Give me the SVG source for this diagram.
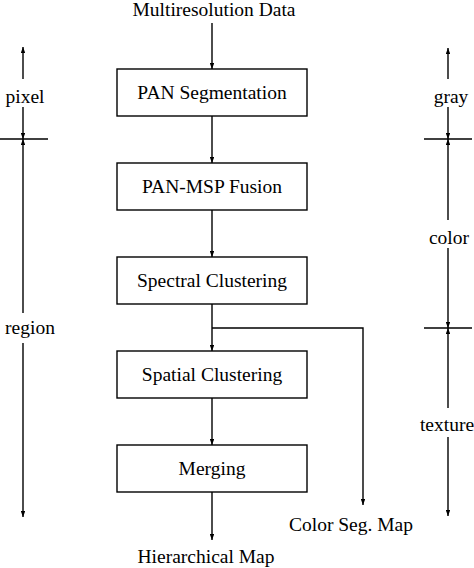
<svg xmlns="http://www.w3.org/2000/svg" width="474" height="568" viewBox="0 0 474 568">
<style>
text{font-family:Tinos,"Times New Roman",Times,"Nimbus Roman","DejaVu Serif",serif;font-size:19.5px;fill:#000;text-anchor:middle}
.box{fill:#fff;stroke:#000;stroke-width:1.4}
.ln{fill:none;stroke:#000;stroke-width:1.4}
</style>
<defs>
<marker id="ah" viewBox="0 0 8 6" refX="8" refY="3" markerWidth="6" markerHeight="4.5" markerUnits="userSpaceOnUse" orient="auto-start-reverse">
<path d="M0,0 L8,3 L0,6 Z" fill="#000"/>
</marker>
</defs>
<g id="connectors" class="ln">
<line x1="212" y1="23" x2="212" y2="69" marker-end="url(#ah)"/>
<line x1="212" y1="116" x2="212" y2="163" marker-end="url(#ah)"/>
<line x1="212" y1="210" x2="212" y2="257" marker-end="url(#ah)"/>
<line x1="212" y1="304" x2="212" y2="351" marker-end="url(#ah)"/>
<line x1="212" y1="398" x2="212" y2="445" marker-end="url(#ah)"/>
<line x1="212" y1="492" x2="212" y2="540" marker-end="url(#ah)"/>
<polyline points="212,328 363,328 363,505" marker-end="url(#ah)"/>
</g>
<g id="n1"><rect class="box" x="117" y="69" width="190" height="47"/><text x="212" y="98.5">PAN Segmentation</text></g>
<g id="n2"><rect class="box" x="117" y="163" width="190" height="47"/><text x="212" y="192.5">PAN-MSP Fusion</text></g>
<g id="n3"><rect class="box" x="117" y="257" width="190" height="47"/><text x="212" y="286.5">Spectral Clustering</text></g>
<g id="n4"><rect class="box" x="117" y="351" width="190" height="47"/><text x="212" y="380.5">Spatial Clustering</text></g>
<g id="n5"><rect class="box" x="117" y="445" width="190" height="47"/><text x="212" y="474.5">Merging</text></g>
<g id="labels">
<text x="214" y="16">Multiresolution Data</text>
<text x="206" y="563">Hierarchical Map</text>
<text x="351" y="531">Color Seg. Map</text>
</g>
<g id="left-axis" class="ln">
<line x1="0" y1="139" x2="48" y2="139"/>
<line x1="23" y1="79" x2="23" y2="47" marker-end="url(#ah)"/>
<line x1="23" y1="107" x2="23" y2="139" marker-end="url(#ah)"/>
<line x1="23" y1="313" x2="23" y2="139" marker-end="url(#ah)"/>
<line x1="23" y1="343" x2="23" y2="517" marker-end="url(#ah)"/>
</g>
<g id="left-labels">
<text x="25" y="103">pixel</text>
<text x="30" y="334">region</text>
</g>
<g id="right-axis" class="ln">
<line x1="424" y1="139" x2="472" y2="139"/>
<line x1="424" y1="328" x2="472" y2="328"/>
<line x1="448" y1="79" x2="448" y2="48" marker-end="url(#ah)"/>
<line x1="448" y1="107" x2="448" y2="139" marker-end="url(#ah)"/>
<line x1="448" y1="220" x2="448" y2="139" marker-end="url(#ah)"/>
<line x1="448" y1="248" x2="448" y2="328" marker-end="url(#ah)"/>
<line x1="448" y1="408" x2="448" y2="328" marker-end="url(#ah)"/>
<line x1="448" y1="437" x2="448" y2="516" marker-end="url(#ah)"/>
</g>
<g id="right-labels">
<text x="451" y="103">gray</text>
<text x="449" y="244">color</text>
<text x="447" y="431">texture</text>
</g>
</svg>
